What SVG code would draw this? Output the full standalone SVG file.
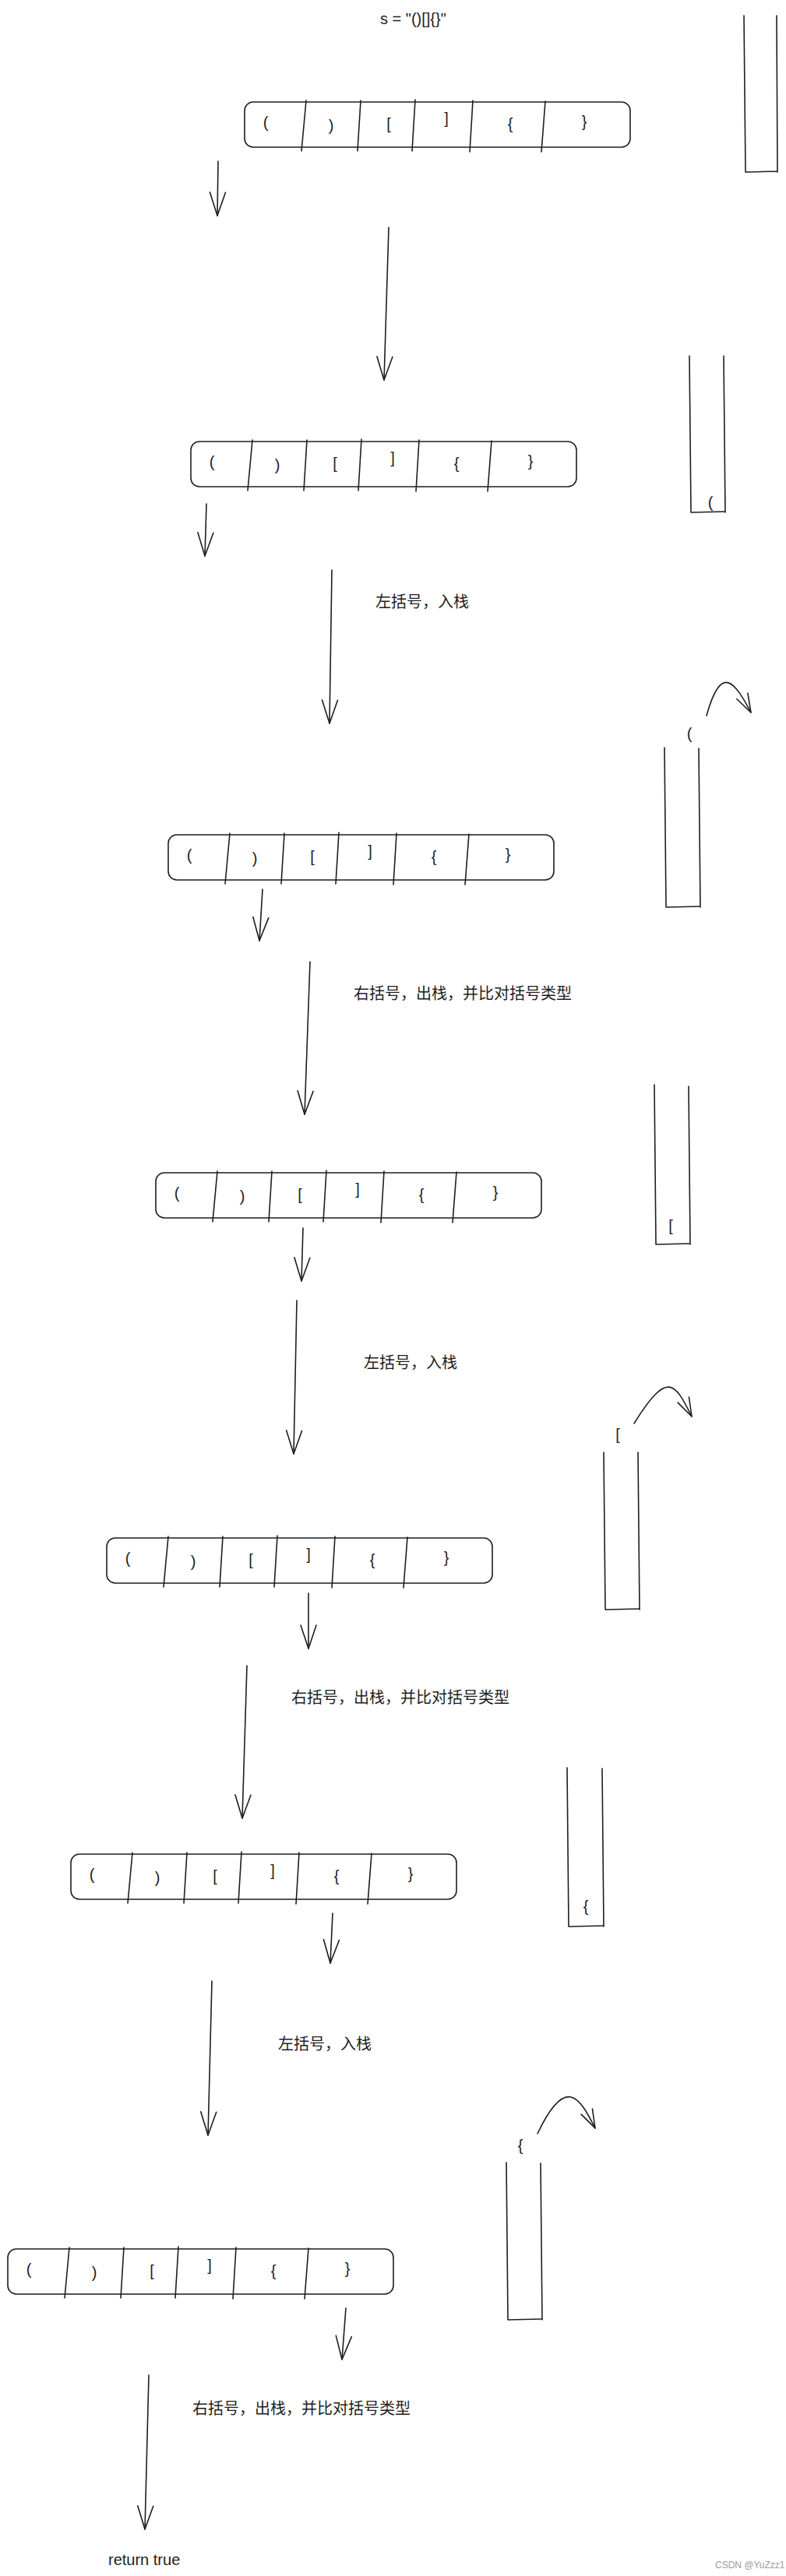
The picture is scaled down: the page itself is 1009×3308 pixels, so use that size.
<svg xmlns="http://www.w3.org/2000/svg" width="1009" height="3308" viewBox="0 0 1009 3308">
<style>
.s{fill:none;stroke:#1e1e1e;stroke-width:1.6;stroke-linecap:round;stroke-linejoin:round}
.t{font-family:"Liberation Sans",Arial,sans-serif;font-size:20px;fill:#1e1e1e}
.b{font-family:"Liberation Sans",Arial,sans-serif;font-size:20px;fill:#1e1e1e;text-anchor:middle}
.c{font-family:"Liberation Sans","Noto Sans CJK SC",sans-serif;font-size:20px;fill:#1e1e1e}
.w{font-family:"Liberation Sans",Arial,sans-serif;font-size:12px;fill:#9a9a9a}
</style>
<defs>
<marker id="ah" markerUnits="userSpaceOnUse" markerWidth="34" markerHeight="24" refX="0" refY="0" orient="auto" overflow="visible">
<path d="M-30,-10 L0,0 L-30,10" fill="none" stroke="#1e1e1e" stroke-width="1.6" stroke-linecap="round" stroke-linejoin="round"/>
</marker>
<marker id="ah2" markerUnits="userSpaceOnUse" markerWidth="28" markerHeight="20" refX="0" refY="0" orient="auto" overflow="visible">
<path d="M-24,-8 L0,0 L-24,8" fill="none" stroke="#1e1e1e" stroke-width="1.6" stroke-linecap="round" stroke-linejoin="round"/>
</marker>
</defs>
<rect width="1009" height="3308" fill="#ffffff"/>

<g id="title"><text class="t" x="488" y="31">s = "()[]{}"</text></g>

<!-- arrays -->
<g id="array1" transform="translate(314,131)">
<rect class="s" x="0" y="0" width="495" height="58" rx="11"/>
<path class="s" d="M79,-2 L73,63 M149,-2 L145,63 M219,-3 L215,63 M293,-2 L289,64 M386,-1 L381,64"/>
<text class="b" x="27" y="33">(</text><text class="b" x="111" y="37">)</text><text class="b" x="185" y="35">[</text><text class="b" x="259" y="28">]</text><text class="b" x="341" y="35">{</text><text class="b" x="436" y="32">}</text>
</g>
<g id="array2" transform="translate(245,567)">
<rect class="s" x="0" y="0" width="495" height="58" rx="11"/>
<path class="s" d="M79,-2 L73,63 M149,-2 L145,63 M219,-3 L215,63 M293,-2 L289,64 M386,-1 L381,64"/>
<text class="b" x="27" y="33">(</text><text class="b" x="111" y="37">)</text><text class="b" x="185" y="35">[</text><text class="b" x="259" y="28">]</text><text class="b" x="341" y="35">{</text><text class="b" x="436" y="32">}</text>
</g>
<g id="array3" transform="translate(216,1072)">
<rect class="s" x="0" y="0" width="495" height="58" rx="11"/>
<path class="s" d="M79,-2 L73,63 M149,-2 L145,63 M219,-3 L215,63 M293,-2 L289,64 M386,-1 L381,64"/>
<text class="b" x="27" y="33">(</text><text class="b" x="111" y="37">)</text><text class="b" x="185" y="35">[</text><text class="b" x="259" y="28">]</text><text class="b" x="341" y="35">{</text><text class="b" x="436" y="32">}</text>
</g>
<g id="array4" transform="translate(200,1506)">
<rect class="s" x="0" y="0" width="495" height="58" rx="11"/>
<path class="s" d="M79,-2 L73,63 M149,-2 L145,63 M219,-3 L215,63 M293,-2 L289,64 M386,-1 L381,64"/>
<text class="b" x="27" y="33">(</text><text class="b" x="111" y="37">)</text><text class="b" x="185" y="35">[</text><text class="b" x="259" y="28">]</text><text class="b" x="341" y="35">{</text><text class="b" x="436" y="32">}</text>
</g>
<g id="array5" transform="translate(137,1975)">
<rect class="s" x="0" y="0" width="495" height="58" rx="11"/>
<path class="s" d="M79,-2 L73,63 M149,-2 L145,63 M219,-3 L215,63 M293,-2 L289,64 M386,-1 L381,64"/>
<text class="b" x="27" y="33">(</text><text class="b" x="111" y="37">)</text><text class="b" x="185" y="35">[</text><text class="b" x="259" y="28">]</text><text class="b" x="341" y="35">{</text><text class="b" x="436" y="32">}</text>
</g>
<g id="array6" transform="translate(91,2381)">
<rect class="s" x="0" y="0" width="495" height="58" rx="11"/>
<path class="s" d="M79,-2 L73,63 M149,-2 L145,63 M219,-3 L215,63 M293,-2 L289,64 M386,-1 L381,64"/>
<text class="b" x="27" y="33">(</text><text class="b" x="111" y="37">)</text><text class="b" x="185" y="35">[</text><text class="b" x="259" y="28">]</text><text class="b" x="341" y="35">{</text><text class="b" x="436" y="32">}</text>
</g>
<g id="array7" transform="translate(10,2888)">
<rect class="s" x="0" y="0" width="495" height="58" rx="11"/>
<path class="s" d="M79,-2 L73,63 M149,-2 L145,63 M219,-3 L215,63 M293,-2 L289,64 M386,-1 L381,64"/>
<text class="b" x="27" y="33">(</text><text class="b" x="111" y="37">)</text><text class="b" x="185" y="35">[</text><text class="b" x="259" y="28">]</text><text class="b" x="341" y="35">{</text><text class="b" x="436" y="32">}</text>
</g>

<!-- stacks -->
<g id="stack1"><path class="s" d="M955,20 L957,221 L998,220 M997,20 L998,221"/></g>
<g id="stack2"><path class="s" d="M885,457 L887,658 L930,657 M929,457 L931,658"/><text class="b" x="912" y="652">(</text></g>
<g id="stack3"><path class="s" d="M853,960 L855,1165 L898,1164 M897,961 L899,1165"/><text class="b" x="885" y="949">(</text></g>
<g id="stack4"><path class="s" d="M840,1393 L842,1598 L885,1597 M884,1395 L886,1598"/><text class="b" x="861" y="1581">[</text></g>
<g id="stack5"><path class="s" d="M775,1865 L777,2067 L820,2066 M819,1865 L821,2067"/><text class="b" x="793" y="1849">[</text></g>
<g id="stack6"><path class="s" d="M728,2270 L730,2474 L774,2473 M773,2271 L775,2474"/><text class="b" x="752" y="2455">{</text></g>
<g id="stack7"><path class="s" d="M650,2777 L652,2979 L695,2978 M694,2778 L696,2979"/><text class="b" x="668" y="2762">{</text></g>

<!-- labels -->
<g id="label1"><text class="c" x="482" y="780">左括号，入栈</text></g>
<g id="label2"><text class="c" x="454" y="1283">右括号，出栈，并比对括号类型</text></g>
<g id="label3"><text class="c" x="467" y="1757">左括号，入栈</text></g>
<g id="label4"><text class="c" x="374" y="2187">右括号，出栈，并比对括号类型</text></g>
<g id="label5"><text class="c" x="357" y="2632">左括号，入栈</text></g>
<g id="label6"><text class="c" x="247" y="3100">右括号，出栈，并比对括号类型</text></g>
<g id="result"><text class="t" x="139" y="3294">return true</text></g>
<g id="watermark"><text class="w" x="918" y="3298">CSDN @YuZzz1</text></g>

<!-- connectors -->
<g id="connectors">
<path class="s" marker-end="url(#ah)" d="M280,207 L279,277"/>
<path class="s" marker-end="url(#ah)" d="M499,292 L493,488"/>
<path class="s" marker-end="url(#ah)" d="M265,647 L263,714"/>
<path class="s" marker-end="url(#ah)" d="M426,732 L423,929"/>
<path class="s" marker-end="url(#ah)" d="M337,1142 L333,1208"/>
<path class="s" marker-end="url(#ah)" d="M398,1235 L391,1431"/>
<path class="s" marker-end="url(#ah)" d="M389,1577 L387,1645"/>
<path class="s" marker-end="url(#ah)" d="M381,1670 L377,1867"/>
<path class="s" marker-end="url(#ah)" d="M396,2046 L396,2117"/>
<path class="s" marker-end="url(#ah)" d="M317,2139 L311,2335"/>
<path class="s" marker-end="url(#ah)" d="M427,2457 L424,2521"/>
<path class="s" marker-end="url(#ah)" d="M272,2544 L267,2742"/>
<path class="s" marker-end="url(#ah)" d="M444,2964 L439,3030"/>
<path class="s" marker-end="url(#ah)" d="M191,3050 L186,3248"/>
<path class="s" marker-end="url(#ah2)" d="M907,919 C926,850 944,877 964,915"/>
<path class="s" marker-end="url(#ah2)" d="M814,1828 C857,1759 866,1775 888,1819"/>
<path class="s" marker-end="url(#ah2)" d="M690,2740 C726,2664 744,2693 764,2733"/>
</g>
</svg>
